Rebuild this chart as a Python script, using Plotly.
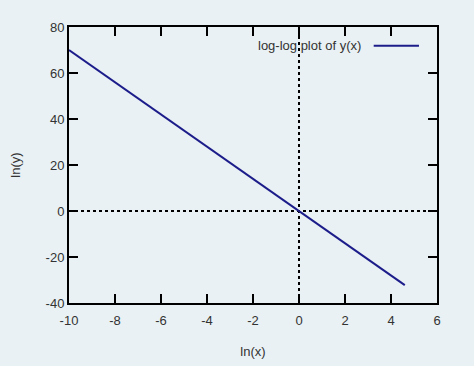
import plotly.graph_objects as go

# Data: ln(x) vs ln(y)
ln_x = [-10.0, -9.0, -8.0, -7.0, -6.0, -5.0, -4.0, -3.0, -2.0, -1.0, 0.0, 1.0, 2.0, 3.0, 4.0, 4.6]
ln_y = [70.0, 63.0, 56.0, 49.0, 42.0, 35.0, 28.0, 21.0, 14.0, 7.0, 0.0, -7.0, -14.0, -21.0, -28.0, -32.2]
series_name = "log-log plot of y(x)"
x_ticks = [-10, -8, -6, -4, -2, 0, 2, 4, 6]
y_ticks = [-40, -20, 0, 20, 40, 60, 80]

bg = "#e9f1f4"
line_color = "#1c1c8a"
font = dict(family="Liberation Sans, Arial, sans-serif", size=13, color="#333333")

fig = go.Figure()
fig.add_trace(go.Scatter(x=ln_x, y=ln_y, mode="lines", name=series_name,
                         line=dict(color=line_color, width=2), showlegend=False))

# dotted zero lines
fig.add_shape(type="line", xref="x", yref="paper", x0=0, x1=0, y0=0, y1=1,
              line=dict(color="black", width=2, dash="dot"), layer="below")
fig.add_shape(type="line", xref="paper", yref="paper", x0=0, x1=1, y0=1/3, y1=1/3,
              line=dict(color="black", width=2, dash="dot"), layer="below")

# gnuplot-style legend: text then sample line
fig.add_annotation(xref="paper", yref="paper", x=0.80, y=0.932, text=series_name,
                   showarrow=False, xanchor="right", yanchor="middle", font=font)
fig.add_shape(type="line", xref="paper", yref="paper", x0=0.828, x1=0.951, y0=0.932, y1=0.932,
              line=dict(color=line_color, width=2))

axis_common = dict(showgrid=False, zeroline=False, showline=True, linecolor="black",
                   linewidth=2, mirror="ticks", ticks="inside", ticklen=9, tickwidth=2,
                   tickcolor="black", tickfont=font, automargin=False)

fig.update_layout(
    width=474, height=366,
    margin=dict(l=69, r=37, t=27, b=63),
    paper_bgcolor=bg, plot_bgcolor=bg,
    font=font,
    xaxis=dict(range=[-10, 6], tickvals=x_ticks, ticktext=[str(v) for v in x_ticks],
               ticklabelstandoff=4,
               title=dict(text="ln(x)", font=font, standoff=20), **axis_common),
    yaxis=dict(range=[-40, 80], tickvals=y_ticks, ticktext=[str(v) for v in y_ticks],
               title=dict(text="ln(y)", font=font, standoff=22), **axis_common),
)

fig.write_html(
    "out.html",
    config={"displayModeBar": False},
    post_script="document.body.style.margin='0';document.body.style.background='#e9f1f4';document.body.style.overflow='hidden';",
)
